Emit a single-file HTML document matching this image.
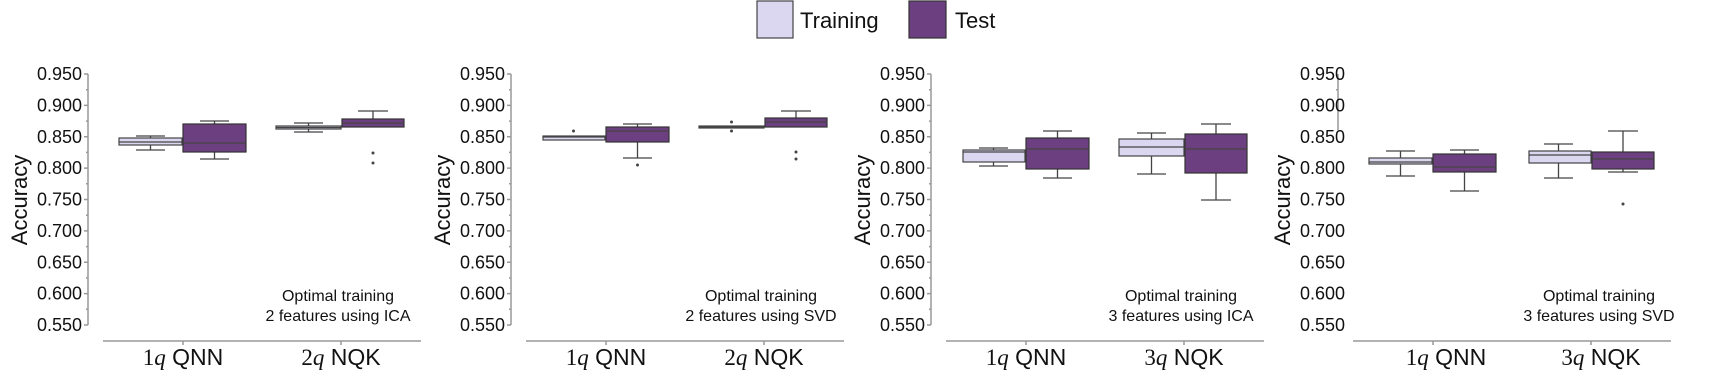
<!DOCTYPE html>
<html><head><meta charset="utf-8"><style>
body{margin:0;background:#fff;}
svg{display:block;font-family:"Liberation Sans",sans-serif;}
.t{font-size:18px;fill:#111;text-anchor:end;dominant-baseline:central;}
.yl{font-size:22px;fill:#111;text-anchor:middle;}
.xl{font-size:23px;fill:#111;text-anchor:middle;}
.q{font-family:"Liberation Serif",serif;font-style:italic;}
.n{font-family:"Liberation Serif",serif;}
.an{font-size:16px;fill:#111;text-anchor:middle;}
.tr{fill:#dcd7f1;stroke:#444;stroke-width:1.2;}
.te{fill:#6c4080;stroke:#333;stroke-width:1.2;}
.w{stroke:#444;stroke-width:1.3;fill:none;}
.ax{stroke:#999;stroke-width:1.5;fill:none;}
</style></head><body>
<svg width="1725" height="379" viewBox="0 0 1725 379">
<defs>
<g id="yax">
<path class="ax" d="M88,74V325 M84,74H88 M84,105.4H88 M84,136.75H88 M84,168.1H88 M84,199.5H88 M84,230.9H88 M84,262.25H88 M84,293.6H88 M84,325H88 M86,89.7H88 M86,121.1H88 M86,152.4H88 M86,183.8H88 M86,215.2H88 M86,246.6H88 M86,277.9H88 M86,309.3H88"/>
<text class="t" x="82" y="74">0.950</text><text class="t" x="82" y="105.4">0.900</text><text class="t" x="82" y="136.75">0.850</text><text class="t" x="82" y="168.1">0.800</text><text class="t" x="82" y="199.5">0.750</text><text class="t" x="82" y="230.9">0.700</text><text class="t" x="82" y="262.25">0.650</text><text class="t" x="82" y="293.6">0.600</text><text class="t" x="82" y="325">0.550</text>
</g>
<g id="xax">
<path class="ax" d="M103,341H421 M183,341V345 M341,341V345"/>
<text class="yl" transform="translate(27,200) rotate(-90)">Accuracy</text>
</g>
</defs>

<!-- legend -->
<rect x="757" y="1" width="36" height="37" class="tr"/>
<text x="800" y="28" font-size="22" fill="#111">Training</text>
<rect x="909" y="1" width="37" height="37" class="te"/>
<text x="955" y="28" font-size="22" fill="#111">Test</text>

<!-- Panel 1 -->
<g transform="translate(0,0)">
<use href="#yax"/><use href="#xax"/>
<text class="xl" x="183" y="365"><tspan class="n">1</tspan><tspan class="q">q</tspan> QNN</text>
<text class="xl" x="341" y="365"><tspan class="n">2</tspan><tspan class="q">q</tspan> NQK</text>
<text class="an" x="338" y="301">Optimal training</text><text class="an" x="338" y="321">2 features using ICA</text>
<path class="w" d="M150.5,136V138 M150.5,145V150 M136,136H165 M136,150H165"/>
<rect class="tr" x="119" y="138" width="63" height="7"/><path class="w" d="M119,142H182"/>
<path class="w" d="M214.5,121V124 M214.5,152V159 M200,121H229 M200,159H229"/>
<rect class="te" x="183" y="124" width="63" height="28"/><path class="w" d="M183,143H246"/>
<path class="w" d="M308.5,123V126 M308.5,129V132 M294,123H323 M294,132H323"/>
<rect class="tr" x="276" y="126" width="65" height="3"/><path class="w" d="M276,127.5H341"/>
<path class="w" d="M373,111V119 M358,111H388"/>
<rect class="te" x="342" y="119" width="62" height="8"/><path class="w" d="M342,123H404"/>
<circle cx="373" cy="153" r="1.5" fill="#444"/><circle cx="373" cy="163" r="1.5" fill="#444"/>
</g>

<!-- Panel 2 -->
<g transform="translate(423,0)">
<use href="#yax"/><use href="#xax"/>
<text class="xl" x="183" y="365"><tspan class="n">1</tspan><tspan class="q">q</tspan> QNN</text>
<text class="xl" x="341" y="365"><tspan class="n">2</tspan><tspan class="q">q</tspan> NQK</text>
<text class="an" x="338" y="301">Optimal training</text><text class="an" x="338" y="321">2 features using SVD</text>
<rect class="tr" x="120" y="136" width="62" height="4"/><path class="w" d="M120,137H182"/>
<circle cx="150.5" cy="131" r="1.5" fill="#444"/>
<path class="w" d="M214.5,124V127 M214.5,142V158 M200,124H229 M200,158H229"/>
<rect class="te" x="183" y="127" width="63" height="15"/><path class="w" d="M183,131H246"/>
<circle cx="214.5" cy="165" r="1.5" fill="#444"/>
<rect class="tr" x="276" y="126" width="65" height="2"/><path class="w" d="M276,127H341"/>
<circle cx="308.5" cy="122" r="1.5" fill="#444"/><circle cx="308.5" cy="131" r="1.5" fill="#444"/>
<path class="w" d="M373,111V118 M358,111H388"/>
<rect class="te" x="342" y="118" width="62" height="9"/><path class="w" d="M342,122H404"/>
<circle cx="373" cy="152" r="1.5" fill="#444"/><circle cx="373" cy="159" r="1.5" fill="#444"/>
</g>

<!-- Panel 3 -->
<g transform="translate(843,0)">
<use href="#yax"/><use href="#xax"/>
<text class="xl" x="183" y="365"><tspan class="n">1</tspan><tspan class="q">q</tspan> QNN</text>
<text class="xl" x="341" y="365"><tspan class="n">3</tspan><tspan class="q">q</tspan> NQK</text>
<text class="an" x="338" y="301">Optimal training</text><text class="an" x="338" y="321">3 features using ICA</text>
<path class="w" d="M150.5,148V150 M150.5,162V166 M136,148H165 M136,166H165"/>
<rect class="tr" x="120" y="150" width="62" height="12"/><path class="w" d="M120,152H182"/>
<path class="w" d="M214.5,131V138 M214.5,169V178 M200,131H229 M200,178H229"/>
<rect class="te" x="183" y="138" width="63" height="31"/><path class="w" d="M183,149H246"/>
<path class="w" d="M308.5,133V139 M308.5,156V174 M294,133H323 M294,174H323"/>
<rect class="tr" x="276" y="139" width="65" height="17"/><path class="w" d="M276,147H341"/>
<path class="w" d="M373,124V134 M373,173V200 M358,124H388 M358,200H388"/>
<rect class="te" x="342" y="134" width="62" height="39"/><path class="w" d="M342,149H404"/>
</g>

<!-- Panel 4 -->
<g transform="translate(1250,0)">
<path class="ax" d="M88,74V130 M86,89.7H88"/>
<text class="t" x="95" y="74">0.950</text><text class="t" x="95" y="105.4">0.900</text><text class="t" x="95" y="136.75">0.850</text><text class="t" x="95" y="168.1">0.800</text><text class="t" x="95" y="199.5">0.750</text><text class="t" x="95" y="230.9">0.700</text><text class="t" x="95" y="262.25">0.650</text><text class="t" x="95" y="293.6">0.600</text><text class="t" x="95" y="325">0.550</text>
<path class="ax" d="M103,341H421 M183,341V345 M341,341V345"/>
<text class="yl" transform="translate(40,200) rotate(-90)">Accuracy</text>
<text class="xl" x="196" y="365"><tspan class="n">1</tspan><tspan class="q">q</tspan> QNN</text>
<text class="xl" x="351" y="365"><tspan class="n">3</tspan><tspan class="q">q</tspan> NQK</text>
<text class="an" x="349" y="301">Optimal training</text><text class="an" x="349" y="321">3 features using SVD</text>
<path class="w" d="M150.5,151V158 M150.5,164V176 M136,151H165 M136,176H165"/>
<rect class="tr" x="119" y="158" width="63" height="6"/><path class="w" d="M119,162H182"/>
<path class="w" d="M214.5,150V154 M214.5,172V191 M200,150H229 M200,191H229"/>
<rect class="te" x="183" y="154" width="63" height="18"/><path class="w" d="M183,167H246"/>
<path class="w" d="M308.5,144V151 M308.5,163V178 M294,144H323 M294,178H323"/>
<rect class="tr" x="279" y="151" width="62" height="12"/><path class="w" d="M279,155H341"/>
<path class="w" d="M373,131V152 M373,169V172 M358,131H388 M358,172H388"/>
<rect class="te" x="342" y="152" width="62" height="17"/><path class="w" d="M342,159H404"/>
<circle cx="373" cy="204" r="1.5" fill="#444"/>
</g>
</svg>
</body></html>
